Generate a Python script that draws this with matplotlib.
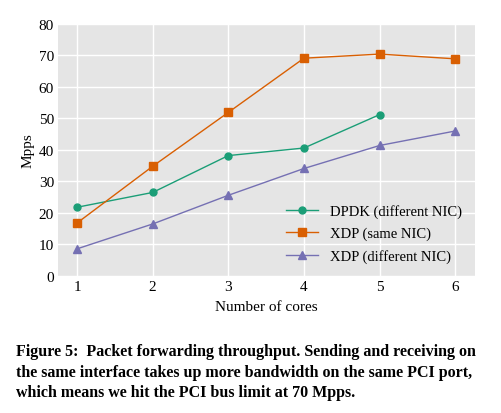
import numpy as np
import matplotlib.pyplot as plt

cores = [1, 2, 3, 4, 5, 6]
dpdk_diff = [21.8, 26.5, 38.2, 40.6, 51.2]
xdp_same = [16.8, 34.8, 51.9, 69.1, 70.4, 68.9]
xdp_diff = [8.6, 16.5, 25.6, 34.1, 41.4, 46.0]

labels = ['DPDK (different NIC)', 'XDP (same NIC)', 'XDP (different NIC)']
caption = ("Figure 5:  Packet forwarding throughput. Sending and receiving on\n"
           "the same interface takes up more bandwidth on the same PCI port,\n"
           "which means we hit the PCI bus limit at 70 Mpps.")

plt.rcParams['font.family'] = ['Liberation Serif', 'DejaVu Serif']

fig = plt.figure(figsize=(5.01, 4.14), dpi=100)
ax = fig.add_axes([0.116, 0.331, 0.832, 0.609])
ax.set_facecolor('#e5e5e5')

ax.plot(cores[:5], dpdk_diff, color='#1b9e77', marker='o', markersize=5, lw=1, label=labels[0])
ax.plot(cores, xdp_same, color='#d95f02', marker='s', markersize=6, lw=1, label=labels[1])
ax.plot(cores, xdp_diff, color='#7570b3', marker='^', markersize=6, lw=1, label=labels[2])

ax.set_xlim(0.75, 6.26)
ax.set_ylim(0, 80)
ax.set_xticks(cores)
ax.set_yticks(np.arange(0, 81, 10))
ax.grid(True, color='white', lw=1)
ax.set_axisbelow(True)
for s in ax.spines.values():
    s.set_visible(False)
ax.tick_params(length=0, labelsize=11, pad=3)
ax.set_xlabel('Number of cores', fontsize=11, labelpad=5)
ax.set_ylabel('Mpps', fontsize=11, labelpad=3)

leg = ax.legend(loc='lower right', bbox_to_anchor=(1.0, 0.0), frameon=False,
                fontsize=10.5, handlelength=2.2, handletextpad=0.8, labelspacing=0.6)

fig.text(0.032, 0.032, caption, fontsize=11.5, fontweight='bold', ha='left', va='bottom',
         linespacing=1.35)

fig.savefig('out.png', dpi=100)
